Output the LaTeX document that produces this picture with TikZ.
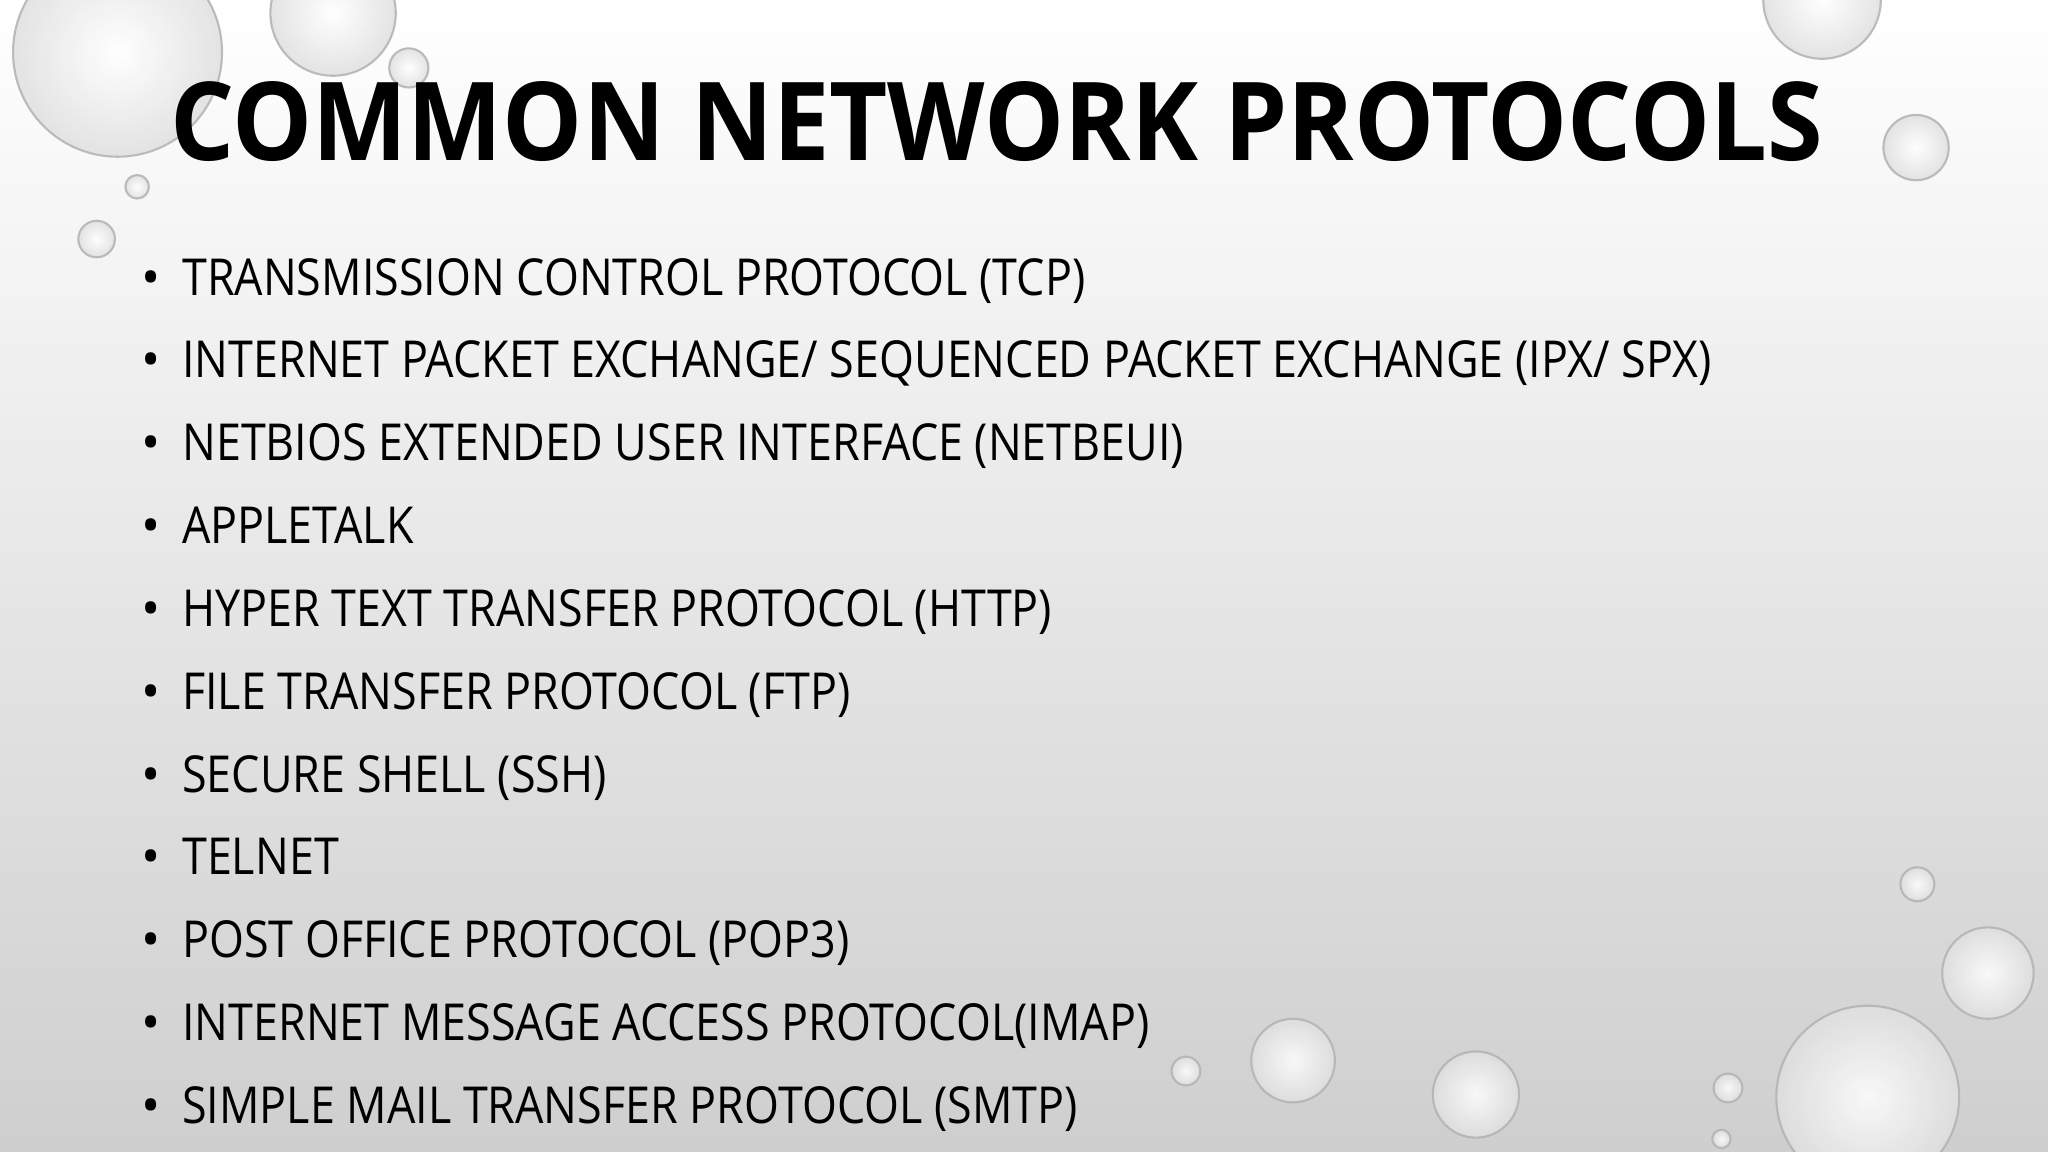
\documentclass[tikz,border=0pt]{standalone}
\usepackage{fontspec}
\setmainfont{Open Sans}
\newfontfamily\itemfont[FakeStretch=0.88]{Open Sans}
\newfontfamily\titlefont[FakeStretch=0.925]{Open Sans}
\begin{document}
\begin{tikzpicture}[x=0.01306cm,y=-0.01306cm,
  item/.style={anchor=base west,inner sep=0pt,font=\itemfont\fontsize{14.5pt}{16pt}\selectfont},
  bul/.style={anchor=base,inner sep=0pt,font=\fontsize{14.5pt}{16pt}\selectfont},
  drop/.style={draw=gray!60,line width=0.6pt,inner color=white,outer color=gray!25,opacity=0.85}]
\shade[top color=white,bottom color=gray!38] (0,0) rectangle (1568,882);
\useasboundingbox (0,0) rectangle (1568,882);
% droplets
\foreach \x/\y/\r in {90/40/80,255/10/48,313/52/15,105/143/9,74/183/14,1395/0/45,1467/113/25,1468/677/13,1522/745/35,1430/840/70,990/812/32,1130/838/33,908/820/11,1323/833/11,1318/872/7}
  \shade[drop] (\x,\y) circle[radius=\r];
\node[inner sep=0pt,anchor=base,font=\titlefont\fontsize{31pt}{34pt}\selectfont\bfseries] (title) at (763,123) {COMMON NETWORK PROTOCOLS};
\foreach \t [count=\i] in {TRANSMISSION CONTROL PROTOCOL (TCP),INTERNET PACKET EXCHANGE/ SEQUENCED PACKET EXCHANGE (IPX/ SPX),NETBIOS EXTENDED USER INTERFACE (NETBEUI),APPLETALK,HYPER TEXT TRANSFER PROTOCOL (HTTP),FILE TRANSFER PROTOCOL (FTP),SECURE SHELL (SSH),TELNET,POST OFFICE PROTOCOL (POP3),INTERNET MESSAGE ACCESS PROTOCOL(IMAP),SIMPLE MAIL TRANSFER PROTOCOL (SMTP)}{
  \node[bul] (b\i) at (116,{226+63.4*(\i-1)}) {•};
  \node[item] (t\i) at (139,{226+63.4*(\i-1)}) {\t};
}
\end{tikzpicture}
\end{document}
